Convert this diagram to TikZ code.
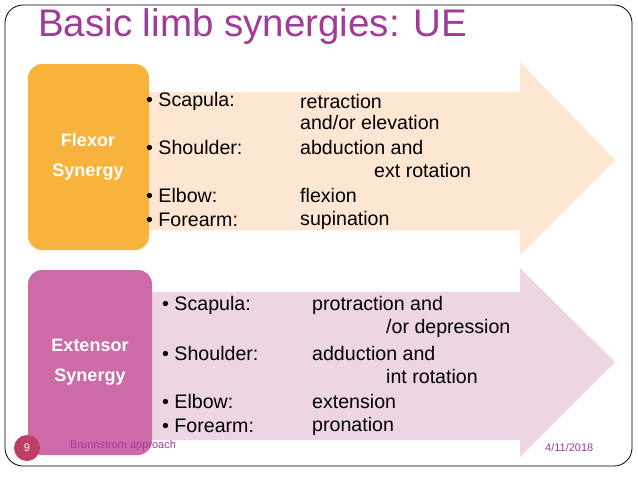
\documentclass[tikz,border=0pt]{standalone}
\usepackage{fontspec}
\setmainfont{Liberation Sans}
\begin{document}
\begin{tikzpicture}[x=1pt,y=-1pt,
  item/.style={anchor=west,font=\fontsize{19.6}{19.6}\selectfont,inner sep=0pt},
  lab/.style={anchor=center,text=white,font=\bfseries\fontsize{18}{30}\selectfont,align=center}]
\definecolor{ttl}{HTML}{A03C98}
\definecolor{peach}{HTML}{FDE7D3}
\definecolor{pinkl}{HTML}{EDD5E3}
\definecolor{orng}{HTML}{F7B33C}
\definecolor{pnk}{HTML}{CD6AA8}
\definecolor{crim}{HTML}{C03E66}
\useasboundingbox (0,0) rectangle (638,479);
\fill[white] (0,0) rectangle (638,479);
\draw[line width=0.8pt,rounded corners=18pt] (5,5) rectangle (632,466);
\node[anchor=west,text=ttl,font=\fontsize{38.5}{38.5}\selectfont,inner sep=0pt] (title) at (38,27) {Basic limb synergies: UE};
% arrows
\fill[peach] (140,92) -- (520,92) -- (520,62) -- (615,160) -- (520,255) -- (520,230) -- (140,230) -- cycle;
\fill[pinkl] (150,292) -- (520,292) -- (520,268) -- (615,362) -- (520,457) -- (520,440) -- (150,440) -- cycle;
\fill[orng,rounded corners=14pt] (28,64) rectangle (149,250);
\fill[pnk,rounded corners=14pt] (28,270) rectangle (152,455);
\node[lab] (flex) at (88,157) {Flexor\\Synergy};
\node[lab] (ext) at (90,362) {Extensor\\Synergy};
\node[item] (a1) at (146,101) {• Scapula:};
\node[item] (b1) at (300,101) {retraction};
\node[item] (b1b) at (300,122) {and/or elevation};
\node[item] (a2) at (146,147) {• Shoulder:};
\node[item] (b2) at (300,147) {abduction and};
\node[item] (b2b) at (374,170) {ext rotation};
\node[item] (a3) at (146,195) {• Elbow:};
\node[item] (b3) at (300,195) {flexion};
\node[item] (a4) at (146,220) {• Forearm:};
\node[item] (b4) at (300,220) {supination};
\node[item] (c1) at (162,305) {• Scapula:};
\node[item] (d1) at (312,305) {protraction and};
\node[item] (d1b) at (386,328) {/or  depression};
\node[item] (c2) at (162,353) {• Shoulder:};
\node[item] (d2) at (312,353) {adduction and};
\node[item] (d2b) at (386,376) {int rotation};
\node[item] (c3) at (162,401) {• Elbow:};
\node[item] (d3) at (312,401) {extension};
\node[item] (c4) at (162,426) {• Forearm:};
\node[item] (d4) at (312,426) {pronation};
\node[circle,fill=crim,minimum size=26pt,inner sep=0pt,text=white,font=\fontsize{11}{11}\selectfont] (num) at (27,448) {9};
\node[anchor=west,text=ttl,font=\fontsize{11}{11}\selectfont,inner sep=0pt] (foot) at (70,446) {Brunnstrom approach};
\node[anchor=west,text=ttl,font=\fontsize{11}{11}\selectfont,inner sep=0pt] (date) at (545,448) {4/11/2018};
\end{tikzpicture}
\end{document}
